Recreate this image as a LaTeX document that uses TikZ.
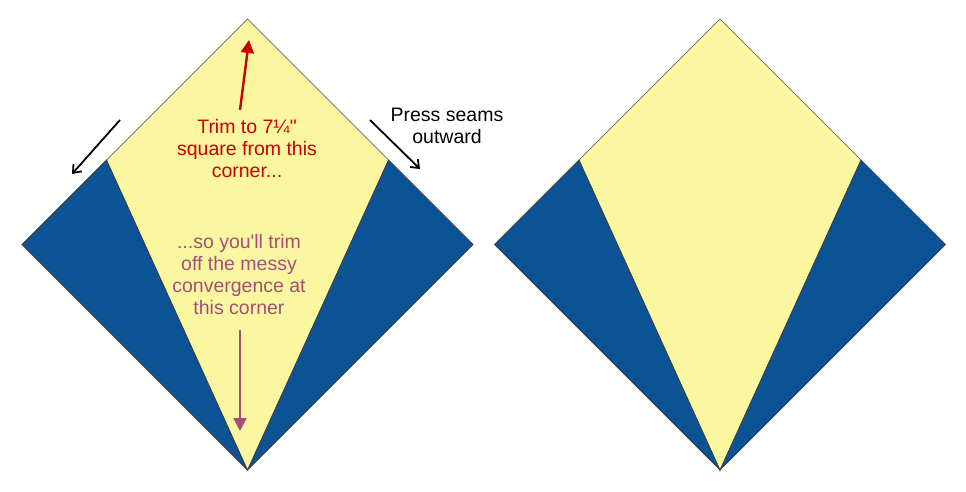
\documentclass[tikz,border=0pt]{standalone}
\usepackage{fontspec}
\setmainfont{Liberation Sans}[Ligatures=TeXOff]
\usetikzlibrary{arrows.meta}
\definecolor{kiteyellow}{HTML}{FBF7A0}
\definecolor{kiteblue}{HTML}{0B5394}
\definecolor{trimred}{HTML}{CC0000}
\definecolor{trimpurple}{HTML}{A64D79}
\begin{document}
\begin{tikzpicture}[x=1pt,y=-1pt,
  patch/.style={draw=black!75, line width=0.6pt, line join=miter},
  lbl/.style={font=\fontsize{19.5}{22}\selectfont, align=center, inner sep=0pt, anchor=base},
  notearrow/.style={line width=2.4pt, -{Triangle[length=13pt,width=13pt]}},
  pressarrow/.style={line width=1.8pt, -{Straight Barb[length=7pt,width=11pt]}}]
\useasboundingbox (0,0) rectangle (966,491);
\foreach \n/\dx in {a/0,b/472.5}{
  \coordinate (\n-T) at (247.5+\dx,19);
  \coordinate (\n-L) at (22+\dx,244.5);
  \coordinate (\n-R) at (473+\dx,244.5);
  \coordinate (\n-B) at (247.5+\dx,470);
  \coordinate (\n-PL) at (106.5+\dx,160);
  \coordinate (\n-PR) at (388.5+\dx,160);
  \fill[kiteyellow] (\n-T) -- (\n-R) -- (\n-B) -- (\n-L) -- cycle;
  \filldraw[patch, fill=kiteblue] (\n-L) -- (\n-PL) -- (\n-B) -- cycle;
  \filldraw[patch, fill=kiteblue] (\n-PR) -- (\n-R) -- (\n-B) -- cycle;
  \draw[patch] (\n-T) -- (\n-R) -- (\n-B) -- (\n-L) -- cycle;
  \draw[patch] (\n-PL) -- (\n-B) -- (\n-PR);
}
% notes (anchor base = baseline of the last line)
\node[lbl, text=trimred] (trimnote) at (247,177) {Trim to 7¼"\\square from this\\corner...};
\node[lbl, text=trimpurple] (messnote) at (239,314) {...so you'll trim\\off the messy\\convergence at\\this corner};
\node[lbl, text=black] (pressnote) at (447,143) {Press seams\\outward};
% arrows
\coordinate (redtail) at (240,110);
\coordinate (redtip) at (249,40);
\draw[notearrow, trimred] (redtail) -- (redtip);
\coordinate (purtail) at (240,330);
\coordinate (purtip) at (240,431);
\draw[notearrow, trimpurple] (purtail) -- (purtip);
\coordinate (lefttail) at (120,120);
\coordinate (lefttip) at (72,174);
\draw[pressarrow] (lefttail) -- (lefttip);
\coordinate (righttail) at (370,120);
\coordinate (righttip) at (420,169);
\draw[pressarrow] (righttail) -- (righttip);
\end{tikzpicture}
\end{document}
